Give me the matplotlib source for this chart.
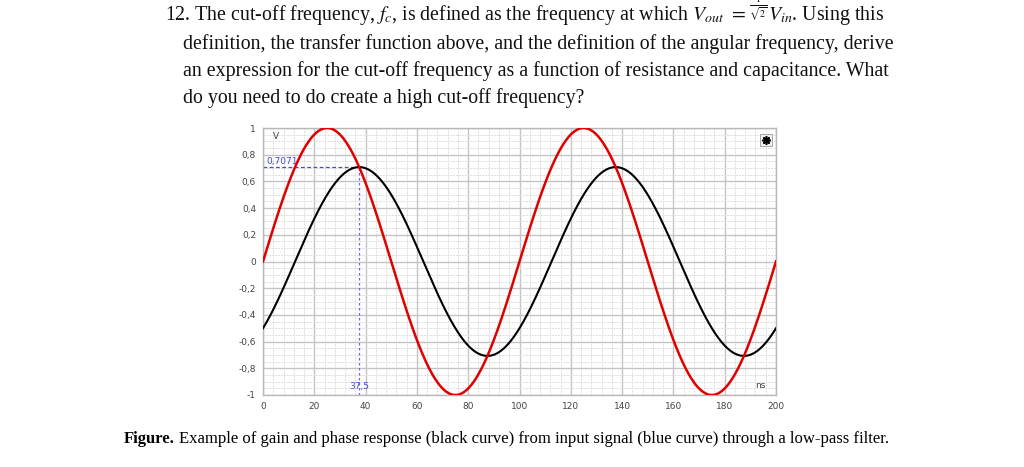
import numpy as np
import matplotlib
matplotlib.use("Agg")
import matplotlib.pyplot as plt

# ---- data ----
period_ns = 100.0          # both signals
amp_in = 1.0               # input (red) amplitude, V
amp_out = 0.7071           # output (black) amplitude, V
lag_ns = 12.5              # output peak at 37.5 ns vs input peak at 25 ns
marker_t = 37.5            # annotated time
marker_v = 0.7071          # annotated voltage
x_ticks = [0, 20, 40, 60, 80, 100, 120, 140, 160, 180, 200]
y_ticks = [1, 0.8, 0.6, 0.4, 0.2, 0, -0.2, -0.4, -0.6, -0.8, -1]
y_tick_labels = ["1", "0,8", "0,6", "0,4", "0,2", "0", "-0,2", "-0,4", "-0,6", "-0,8", "-1"]

t = np.linspace(0, 200, 2001)
v_in = amp_in * np.sin(2 * np.pi * t / period_ns)
v_out = amp_out * np.sin(2 * np.pi * (t - lag_ns) / period_ns)

plt.rcParams["mathtext.fontset"] = "stix"

W, H = 1024, 467
fig = plt.figure(figsize=(W / 100, H / 100), dpi=100)
fig.patch.set_facecolor("white")

left, right, top, bottom = 263, 776, 128, 395
ax = fig.add_axes([left / W, 1 - bottom / H, (right - left) / W, (bottom - top) / H])
ax.set_xlim(0, 200)
ax.set_ylim(-1, 1)

# grid
ax.set_xticks(x_ticks)
ax.set_yticks(y_ticks)
ax.set_xticks(np.arange(0, 201, 4), minor=True)
ax.set_yticks(np.arange(-1, 1.001, 0.05), minor=True)
ax.grid(True, which="minor", color="#dedede", lw=0.7, ls=(0, (2, 1)))
ax.grid(True, which="major", color="#c4c4c4", lw=1.0)
ax.set_axisbelow(True)
ax.tick_params(which="both", length=0)
ax.tick_params(axis="both", labelsize=6.5, labelcolor="#444444", pad=5)
ax.set_xticklabels([str(v) for v in x_ticks])
ax.set_yticklabels(y_tick_labels)
for s in ax.spines.values():
    s.set_color("#b8b8b8")
    s.set_linewidth(1.0)

# curves
ax.plot(t, v_out, color="black", lw=1.5, zorder=3)
ax.plot(t, v_in, color="#e00000", lw=1.8, zorder=4)

# annotation lines
blue = "#4848d8"
ax.plot([0, marker_t], [marker_v, marker_v], color=blue, lw=0.9, ls=(0, (3, 2)), zorder=2)
ax.plot([marker_t, marker_t], [-1, marker_v], color="#6a6ae0", lw=0.9, ls=(0, (2, 2)), zorder=2)
ax.text(1.5, marker_v + 0.01, "0,7071", color=blue, fontsize=6.5, ha="left", va="bottom")
ax.text(marker_t, -0.97, "37,5", color=blue, fontsize=6.5, ha="center", va="bottom")
ax.text(4, 0.97, "V", color="#444444", fontsize=6.5, ha="left", va="top")
ax.text(196, -0.96, "ns", color="#444444", fontsize=6.5, ha="right", va="bottom")

# gear icon at top right
ax.plot([0.981], [0.955], transform=ax.transAxes, marker="s", ms=9,
        mfc="#eeeeee", mec="#999999", mew=0.6, zorder=5, clip_on=False)
ax.plot([0.981], [0.955], transform=ax.transAxes, marker=(8, 2, 0), ms=6,
        color="black", mew=1.2, zorder=6, clip_on=False)
ax.plot([0.981], [0.955], transform=ax.transAxes, marker="o", ms=3,
        mfc="black", mec="black", zorder=7, clip_on=False)

# ---- paragraph text ----
serif = "Liberation Serif"
fs = 14.3
col = "#111111"
fig.canvas.draw()
r = fig.canvas.get_renderer()

# line 1 built from pieces so the fraction can be small and raised
y1 = 1 - 20 / H
p1 = fig.text(165 / W, y1, r"12. The cut-off frequency, $f_c$, is defined as the frequency at which $V_{out}$ $=$",
              family=serif, fontsize=fs, ha="left", va="baseline", color=col)
b1 = p1.get_window_extent(renderer=r)
p2 = fig.text((b1.x1 + 3) / W, 1 - 22 / H, r"$\frac{1}{\sqrt{2}}$", fontsize=10,
              ha="left", va="bottom", color=col)
b2 = p2.get_window_extent(renderer=r)
fig.text((b2.x1 + 1) / W, y1, r"$V_{in}$. Using this", family=serif, fontsize=fs,
         ha="left", va="baseline", color=col)

lines = [
    "definition, the transfer function above, and the definition of the angular frequency, derive",
    "an expression for the cut-off frequency as a function of resistance and capacitance. What",
    "do you need to do create a high cut-off frequency?",
]
ys = [49, 76, 103]
for s, y in zip(lines, ys):
    fig.text(183 / W, 1 - y / H, s, family=serif, fontsize=fs, ha="left", va="baseline", color=col)

# ---- caption ----
cap_y = 1 - 443 / H
tb = fig.text(124 / W, cap_y, "Figure.", family=serif, fontsize=12, weight="bold", ha="left", va="baseline")
bb = tb.get_window_extent(renderer=r)
fig.text((bb.x1 + 4) / W, cap_y,
         "Example of gain and phase response (black curve) from input signal (blue curve) through a low-pass filter.",
         family=serif, fontsize=12, ha="left", va="baseline")

fig.savefig("out.png", dpi=100)
